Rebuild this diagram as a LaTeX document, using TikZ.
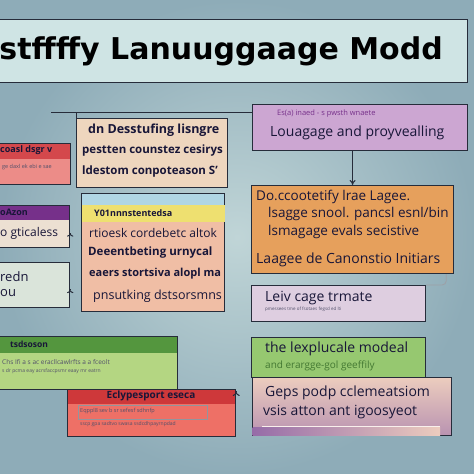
\documentclass[tikz,border=0pt]{standalone}
\usepackage{fontspec}
\setmainfont{Open Sans}
\newfontfamily\titlefont{DejaVu Sans}
\usetikzlibrary{calc,arrows.meta}
\definecolor{bglight}{RGB}{192,213,215}
\definecolor{bgdark}{RGB}{142,172,184}
\definecolor{boxline}{RGB}{38,44,58}
\definecolor{inkblue}{RGB}{24,22,56}
\definecolor{titlefill}{RGB}{207,228,228}
\definecolor{peachfill}{RGB}{238,214,190}
\definecolor{salmonfill}{RGB}{240,190,165}
\definecolor{skystrip}{RGB}{176,214,228}
\definecolor{yellowband}{RGB}{238,224,112}
\definecolor{redhead}{RGB}{212,72,76}
\definecolor{pinkbody}{RGB}{236,140,136}
\definecolor{purplehead}{RGB}{118,48,138}
\definecolor{beigebody}{RGB}{236,224,210}
\definecolor{sagefill}{RGB}{218,228,218}
\definecolor{lilacfill}{RGB}{204,166,210}
\definecolor{orangefill}{RGB}{230,160,92}
\definecolor{mauvefill}{RGB}{222,206,224}
\definecolor{leafgreen}{RGB}{150,200,112}
\definecolor{darkleaf}{RGB}{84,150,62}
\definecolor{palegreen}{RGB}{180,214,130}
\definecolor{brickhead}{RGB}{206,56,58}
\definecolor{coralbody}{RGB}{238,112,102}
\definecolor{rosetop}{RGB}{236,204,190}
\definecolor{violetbase}{RGB}{150,108,168}

\begin{document}
\begin{tikzpicture}[x=1pt,y=-1pt,
  box/.style={draw=boxline,line width=1.2pt,anchor=north west,inner sep=0pt},
  header/.style 2 args={path picture={\fill[#1] (path picture bounding box.north west)
      rectangle ([yshift=-#2]path picture bounding box.north east);}},
  wire/.style={draw=boxline,line width=1pt},
  faint/.style={draw=boxline!45,line width=.8pt},
  tickmark/.style={draw=boxline,line width=1pt,minimum width=0pt,minimum height=10pt,inner sep=0pt},
  txt/.style={anchor=west,text=inkblue,inner sep=0pt},
  tinytxt/.style={anchor=west,text=inkblue!75,inner sep=0pt,font=\fontsize{5.5}{6}\selectfont}]
  \useasboundingbox (0,0) rectangle (474,474);
  \shade[inner color=bglight,outer color=bgdark] (0,0) rectangle (474,474);

  % title bar
  \node[box,fill=titlefill,minimum width=472pt,minimum height=63pt] (title) at (-5,19) {};
  \node[txt,anchor=east,text=black,font=\titlefont\bfseries\fontsize{30}{32}\selectfont] (ttl) at (443,51) {stffffy Lanuuggaage Modd};

  % left column
  \node[box,fill=pinkbody,header={redhead}{15pt},minimum width=73pt,minimum height=41pt] (B) at (-3,143) {};
  \node[txt,font=\bfseries\fontsize{9}{10}\selectfont] (b1) at (0,150) {coasl dsgr v};
  \node[tinytxt] (b2) at (2,167) {ge daxl ek ebi e sae};
  \node[box,fill=beigebody,header={purplehead}{14pt},minimum width=72pt,minimum height=42pt] (C) at (-3,205) {};
  \node[txt,font=\bfseries\fontsize{9}{10}\selectfont] (c1) at (0,212) {oAzon};
  \node[txt,font=\fontsize{12}{13}\selectfont] (c2) at (0,233) {o gticaless};
  \node[box,fill=sagefill,minimum width=72pt,minimum height=45pt] (E) at (-3,262) {};
  \node[txt,font=\fontsize{13}{14}\selectfont] (e1) at (0,277) {redn};
  \node[txt,font=\fontsize{13}{14}\selectfont] (e2) at (0,293) {ou};
  \node[box,fill=palegreen,header={darkleaf}{16pt},minimum width=180pt,minimum height=53pt] (K) at (-3,336) {};
  \node[txt,font=\bfseries\fontsize{8.5}{9}\selectfont] (k1) at (10,344) {tsdsoson};
  \node[tinytxt,font=\fontsize{6.5}{7}\selectfont] (k2) at (2,362) {Chs Ifi a s ac eracllcawlrfts a a fceolt};
  \node[tinytxt,font=\fontsize{5}{6}\selectfont] (k3) at (2,371) {s dr pcma eay acrsfaccpsmr eaay mr eatrn};
  \node[box,fill=coralbody,header={brickhead}{14pt},minimum width=168pt,minimum height=47pt] (L) at (67,389) {};
  \node[txt,anchor=center,font=\bfseries\fontsize{10}{11}\selectfont] (l1) at (151,396) {Eclypesport eseca};
  \draw[boxline!50,line width=.5pt] (78,405) rectangle (207,419);
  \node[tinytxt] (l2) at (80,411) {Eqppl8 sev b sr sefesf sdhnfp};
  \node[tinytxt,font=\fontsize{5}{6}\selectfont] (l3) at (80,424) {sscp gpa sadtvo swasa ssdcdhpayrnpdad};

  % middle column
  \node[box,fill=peachfill,minimum width=151pt,minimum height=69pt] (A) at (76,118) {};
  \node[txt,font=\bfseries\fontsize{12.5}{13}\selectfont] (a1) at (88,130) {dn Desstufing lisngre};
  \node[txt,font=\bfseries\fontsize{11.5}{12}\selectfont] (a2) at (82,151) {pestten counstez cesirys};
  \node[txt,font=\bfseries\fontsize{11.5}{12}\selectfont] (a3) at (82,172) {ldestom conpoteason S'};
  \node[box,fill=salmonfill,header={skystrip}{12pt},minimum width=143pt,minimum height=118pt] (D) at (81,193) {};
  \fill[yellowband] ($(D.north west)+(0.6,12)$) rectangle ($(D.north east)+(-0.6,29)$);
  \node[txt,font=\bfseries\fontsize{9}{10}\selectfont] (d0) at (94,213) {Y01nnnstentedsa};
  \node[txt,font=\fontsize{12}{13}\selectfont] (d1) at (89,233) {rtioesk cordebetc altok};
  \node[txt,font=\bfseries\fontsize{11.5}{12}\selectfont] (d2) at (88,253) {Deeentbeting urnycal};
  \node[txt,font=\bfseries\fontsize{11}{12}\selectfont] (d3) at (89,274) {eaers stortsiva alopl ma};
  \node[txt,font=\fontsize{12.5}{13}\selectfont] (d4) at (93,296) {pnsutking dstsorsmns};

  % right column
  \node[box,fill=lilacfill,minimum width=215pt,minimum height=46pt] (F) at (252,104) {};
  \node[txt,text=purplehead,font=\fontsize{7.5}{8}\selectfont] (f1) at (277,114) {Es(a) inaed - s pwsth wnaete};
  \node[txt,font=\fontsize{14}{15}\selectfont] (f2) at (270,133) {Louagage and proyvealling};
  \node[box,fill=orangefill,minimum width=202pt,minimum height=88pt] (G) at (251,185) {};
  \node[txt,font=\fontsize{13.5}{14}\selectfont] (g1) at (256,197) {Do.ccootetify lrae Lagee.};
  \node[txt,font=\fontsize{13.5}{14}\selectfont] (g2) at (268,214) {lsagge snool. pancsl esnl/bin};
  \node[txt,font=\fontsize{13.5}{14}\selectfont] (g3) at (268,232) {lsmagage evals secistive};
  \node[txt,font=\fontsize{14}{15}\selectfont] (g4) at (256,260) {Laagee de Canonstio Initiars};
  \node[box,fill=mauvefill,minimum width=174pt,minimum height=36pt] (H) at (251,285) {};
  \node[txt,font=\fontsize{14}{15}\selectfont] (h1) at (265,298) {Leiv cage trmate};
  \node[tinytxt,font=\fontsize{4.5}{5}\selectfont] (h2) at (265,309) {pmessees tme of fsotaes fegsd ed lti};
  \node[box,fill=leafgreen,minimum width=174pt,minimum height=40pt] (I) at (251,337) {};
  \node[txt,font=\fontsize{14}{15}\selectfont] (i1) at (265,349) {the lexplucale modeal};
  \node[txt,text=darkleaf!80!black,font=\fontsize{10}{11}\selectfont] (i2) at (265,366) {and erargge-gol geeffily};
  \node[box,top color=rosetop,bottom color=violetbase!60!rosetop,minimum width=199pt,minimum height=58pt] (J) at (252,377) {};
  \shade[left color=violetbase,right color=rosetop] ($(J.south west)+(0.6,-9)$) rectangle ($(J.south east)+(-12,-0.6)$);
  \draw[white!70!rosetop,line width=.8pt] ($(J.south west)+(10,-10)$) -- ($(J.south east)+(-12,-10)$);
  \node[txt,font=\fontsize{14}{15}\selectfont] (j1) at (265,393) {Geps podp cclemeatsiom};
  \node[txt,font=\fontsize{14}{15}\selectfont] (j2) at (263,412) {vsis atton ant igoosyeot};

  % connectors
  \coordinate (lstart) at (51,112);
  \draw[wire] (lstart) -- (lstart -| F.west);
  \draw[wire] (A.north west) -- (A.north west |- lstart);
  \draw[wire] ($(B.east)+(0,6)$) -- ($(B.east)+(0,6)$ -| A.west);
  \draw[wire,-{To[length=3pt]}] ($(C.east)+(0,7)$) -- ($(C.east)+(0,7)$ -| D.west);
  \draw[wire,-{To[length=3pt]}] ($(E.east)+(0,5)$) -- ($(E.east)+(0,5)$ -| D.west);
  \draw[wire,-{To[length=5pt,width=6pt]}] (F.south -| G.north) -- (G.north);
  \draw[wire] ($(G.west)+(0,3)$ -| D.east) -- node[tickmark,pos=.75] (t1) {} ($(G.west)+(0,3)$);
  \draw[wire] ($(G.south west)+(0,-1)$ -| D.east) -- ($(G.south west)+(0,-1)$);
  \draw[faint] ($(H.west)+(0,-10)$ -| D.east) -- ($(H.west)+(0,-10)$);
  \draw[wire] ($(H.west)+(0,6)$ -| D.east) -- ($(H.west)+(0,6)$);
  \draw[faint,rounded corners=4pt] ($(G.south east)+(-8,0)$) |- (H.north east);
  \draw[wire] ($(I.west)+(0,-5)$ -| K.east) -- node[tickmark,pos=.66] (t2) {} ($(I.west)+(0,-5)$);
  \draw[wire,-{To[length=4pt,width=7pt]}] ($(L.north east)+(0,3)$) -- ($(L.north east)+(0,3)$ -| J.west);
\end{tikzpicture}
\end{document}
